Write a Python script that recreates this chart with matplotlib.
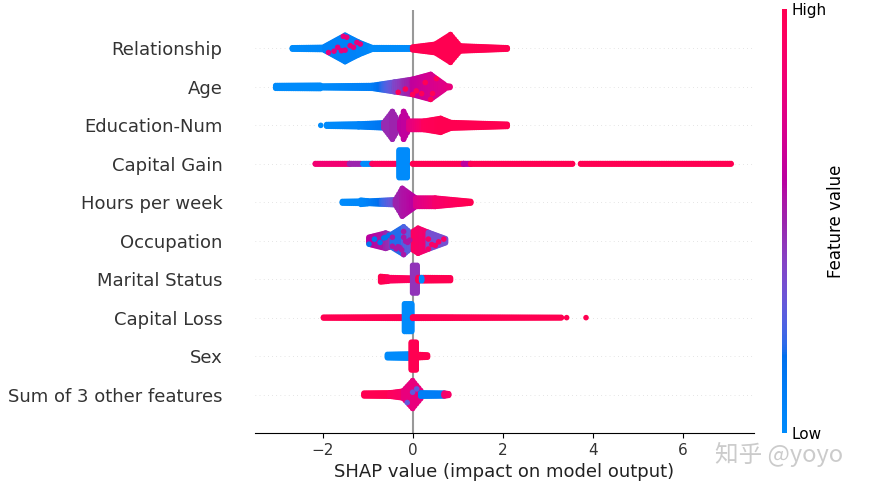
import numpy as np
import matplotlib
matplotlib.use("Agg")
import matplotlib.pyplot as plt
import matplotlib.cm as cm
from matplotlib.colors import LinearSegmentedColormap

# features, top to bottom
features = ["Relationship", "Age", "Education-Num", "Capital Gain",
            "Hours per week", "Occupation", "Marital Status", "Capital Loss",
            "Sex", "Sum of 3 other features"]

# swarm outline:
# (shap from, shap to, stack height at start, at end, feature value at start, at end)
relationship = [(-2.67, -1.95, 0.05, 0.08, 0.0, 0.02),
                (-1.95, -1.5, 0.15, 0.95, 0.06, 0.06),
                (-1.5, -1.2, 0.95, 0.45, 0.06, 0.06),
                (-1.2, -0.93, 0.45, 0.1, 0.05, 0.03),
                (-0.93, -0.02, 0.06, 0.05, 0.0, 0.0),
                (0.0, 0.5, 0.1, 0.3, 1.0, 1.0),
                (0.5, 0.84, 0.3, 1.0, 1.0, 1.0),
                (0.84, 1.05, 1.0, 0.2, 1.0, 1.0),
                (1.05, 2.1, 0.18, 0.05, 1.0, 1.0)]
age = [(-3.04, -2.05, 0.1, 0.12, 0.0, 0.0),
       (-2.05, -0.9, 0.06, 0.1, 0.0, 0.08),
       (-0.9, -0.4, 0.1, 0.35, 0.08, 0.35),
       (-0.4, 0.0, 0.35, 0.55, 0.38, 0.55),
       (0.0, 0.4, 0.55, 0.9, 0.62, 0.7),
       (0.4, 0.7, 0.9, 0.2, 0.7, 0.75),
       (0.7, 0.83, 0.1, 0.04, 0.75, 0.8)]
education = [(-2.04, -2.04, 0.0, 0.0, 0.0, 0.0),
             (-1.91, -1.2, 0.06, 0.1, 0.0, 0.04),
             (-1.2, -0.64, 0.1, 0.18, 0.04, 0.15),
             (-0.64, -0.45, 0.2, 1.0, 0.48, 0.48),
             (-0.45, -0.3, 1.0, 0.2, 0.5, 0.5),
             (-0.28, -0.2, 0.3, 1.0, 0.6, 0.6),
             (-0.2, -0.08, 1.0, 0.3, 0.62, 0.62),
             (-0.08, 0.25, 0.3, 0.3, 0.75, 0.92),
             (0.25, 0.62, 0.3, 0.5, 0.95, 1.0),
             (0.62, 0.85, 0.5, 0.2, 1.0, 1.0),
             (0.85, 2.1, 0.2, 0.08, 1.0, 1.0)]
capital_gain = [(-2.16, -1.4, 0.02, 0.02, 0.85, 0.85),
                (-1.4, -1.15, 0.02, 0.02, 0.5, 0.5),
                (-1.1, -0.9, 0.02, 0.02, 0.0, 0.0),
                (-0.9, -0.33, 0.02, 0.02, 0.95, 0.95),
                (-0.3, -0.12, 1.0, 1.0, 0.0, 0.0),
                (0.0, 1.13, 0.02, 0.02, 1.0, 1.0),
                (1.13, 1.29, 0.02, 0.02, 0.6, 0.6),
                (1.29, 3.55, 0.02, 0.02, 1.0, 1.0),
                (3.73, 7.07, 0.02, 0.02, 1.0, 1.0)]
hours = [(-1.56, -1.15, 0.06, 0.08, 0.0, 0.02),
         (-1.15, -1.0, 0.15, 0.1, 0.02, 0.04),
         (-1.0, -0.38, 0.08, 0.18, 0.05, 0.35),
         (-0.38, -0.23, 0.2, 1.0, 0.5, 0.52),
         (-0.23, 0.07, 1.0, 0.3, 0.55, 0.6),
         (0.07, 0.5, 0.3, 0.3, 0.72, 0.85),
         (0.5, 1.29, 0.3, 0.06, 0.88, 1.0)]
occupation = [(-0.97, -0.6, 0.25, 0.55, 0.6, 0.55),
              (-0.6, -0.45, 0.55, 0.4, 0.5, 0.45),
              (-0.45, -0.2, 0.5, 1.0, 0.2, 0.2),
              (-0.2, -0.02, 1.0, 0.5, 0.25, 0.3),
              (0.02, 0.12, 0.7, 0.9, 0.92, 0.92),
              (0.12, 0.35, 0.9, 0.6, 0.9, 0.85),
              (0.35, 0.73, 0.6, 0.15, 0.35, 0.35)]
marital = [(-0.71, -0.55, 0.2, 0.15, 1.0, 1.0),
           (-0.55, -0.05, 0.12, 0.08, 0.95, 0.95),
           (0.0, 0.1, 1.0, 1.0, 0.45, 0.45),
           (0.12, 0.84, 0.12, 0.1, 1.0, 1.0)]
capital_loss = [(-1.98, -0.2, 0.03, 0.05, 1.0, 1.0),
                (-0.18, -0.02, 1.0, 1.0, 0.0, 0.0),
                (0.0, 3.3, 0.05, 0.02, 1.0, 1.0),
                (3.42, 3.42, 0.0, 0.0, 1.0, 1.0),
                (3.85, 3.85, 0.0, 0.0, 1.0, 1.0)]
sex = [(-0.56, -0.09, 0.12, 0.15, 0.0, 0.0),
       (-0.03, 0.08, 1.0, 1.0, 1.0, 1.0),
       (0.1, 0.33, 0.12, 0.08, 1.0, 1.0)]
other = [(-1.08, -0.5, 0.1, 0.12, 1.0, 1.0),
         (-0.5, -0.2, 0.12, 0.25, 0.95, 0.9),
         (-0.2, 0.0, 0.3, 1.0, 0.8, 0.8),
         (0.0, 0.18, 1.0, 0.3, 0.8, 0.8),
         (0.18, 0.7, 0.12, 0.1, 0.08, 0.1),
         (0.7, 0.8, 0.1, 0.06, 0.85, 0.9)]

# speckles of other feature values inside the swarm: (from, to, feature value, every nth point)
relationship_mix = [(-1.9, -1.05, 0.8, 35)]
age_mix = [(-0.35, 0.6, 0.97, 50)]
occupation_mix = [(-0.97, -0.5, 0.15, 30), (-0.45, -0.05, 0.55, 20), (0.35, 0.73, 0.9, 25)]
marital_mix = [(-0.16, -0.14, 0.0, 1), (0.19, 0.21, 0.0, 1)]
other_mix = [(-0.15, 0.15, 0.3, 70)]

rows = [relationship, age, education, capital_gain, hours,
        occupation, marital, capital_loss, sex, other]
mixes = [relationship_mix, age_mix, [], [], [], occupation_mix,
         marital_mix, [], [], other_mix]


# shap's red_blue colormap (interpolated in LCH space)
def lch2rgb(l, c, h):
    a, b = c * np.cos(h), c * np.sin(h)
    fy = (l + 16) / 116
    fx, fz = fy + a / 500, fy - b / 200
    finv = lambda t: np.where(t > 6 / 29, t ** 3, 3 * (6 / 29) ** 2 * (t - 4 / 29))
    X, Y, Z = 0.95047 * finv(fx), finv(fy), 1.08883 * finv(fz)
    rgb = np.array([3.2406 * X - 1.5372 * Y - 0.4986 * Z,
                    -0.9689 * X + 1.8758 * Y + 0.0415 * Z,
                    0.0557 * X - 0.2040 * Y + 1.0570 * Z])
    rgb = np.where(rgb > 0.0031308, 1.055 * np.abs(rgb) ** (1 / 2.4) - 0.055, 12.92 * rgb)
    return np.clip(rgb, 0, 1)

nsteps = 100
l_vals = np.r_[np.linspace(54, 40, nsteps // 2), np.linspace(40, 54, nsteps // 2)]
c_vals = np.linspace(70, 90, nsteps)
h_vals = np.linspace(4.6588, 0.35470565 + 2 * np.pi, nsteps)
cols = lch2rgb(l_vals, c_vals, h_vals).T
cols[0] = [0.0, 0.5434, 0.9834]
cols[-1] = [1.0, 0.0, 0.3193]
red_blue = LinearSegmentedColormap.from_list("red_blue", cols)

plt.rcParams["font.family"] = "DejaVu Sans"
fig = plt.figure(figsize=(8.81, 4.87), dpi=100)
ax = fig.add_axes([255 / 881, 54 / 487, 499 / 881, 423 / 487])

n = len(features)
max_half = 0.36   # shap scales the tallest stack to 0.9 * row_height(0.4)
dx, dy = 0.04, 0.03

ax.axvline(0, color="#999999", zorder=-1)
for i, (segs, mix) in enumerate(zip(rows, mixes)):
    pos = n - 1 - i
    ax.axhline(pos, color="#cccccc", lw=0.5, dashes=(1, 5), zorder=-1)
    xs, ys, cs = [], [], []
    for x0, x1, h0, h1, c0, c1 in segs:
        ncol = max(1, int(round((x1 - x0) / dx)) + 1)
        for t in np.linspace(0, 1, ncol):
            h = (h0 + t * (h1 - h0)) * max_half
            k = int(np.ceil(2 * h / dy)) + 1
            for y in np.linspace(-h, h, k):
                xs.append(x0 + t * (x1 - x0))
                ys.append(pos + y)
                cs.append(c0 + t * (c1 - c0))
    xs, ys, cs = np.array(xs), np.array(ys), np.array(cs)
    top = np.zeros(len(xs), bool)
    for m0, m1, mc, every in mix:
        idx = np.where((xs >= m0) & (xs <= m1))[0][::every]
        cs[idx] = mc
        top[idx] = True
    ax.scatter(xs[~top], ys[~top], c=cs[~top], cmap=red_blue, vmin=0, vmax=1,
               s=16, linewidth=0)
    ax.scatter(xs[top], ys[top], c=cs[top], cmap=red_blue, vmin=0, vmax=1,
               s=16, linewidth=0)

ax.set_xlim(-3.5, 7.58)
ax.set_ylim(-1, n)
ax.set_yticks(range(n))
ax.set_yticklabels(features[::-1], fontsize=13, color="#333333")
ax.tick_params("y", length=0, pad=23.5)
ax.tick_params("x", labelsize=11, labelcolor="#333333")
for s in ["top", "right", "left"]:
    ax.spines[s].set_visible(False)
ax.set_xlabel("SHAP value (impact on model output)", fontsize=13, color="#222222")

# colour bar
cax = fig.add_axes([782 / 881, 54 / 487, 5 / 881, 424 / 487])
m = cm.ScalarMappable(cmap=red_blue)
m.set_array([0, 1])
cb = fig.colorbar(m, cax=cax, ticks=[0, 1])
cb.set_ticklabels(["Low", "High"])
cb.set_label("Feature value", size=12, labelpad=0)
cb.ax.tick_params(labelsize=11, length=0)
cb.outline.set_visible(False)

# watermark
fig.text(0.812, 0.066, "知乎 @yoyo", fontsize=17, color="#cbcbcb",
         ha="left", va="center", family=["Noto Sans CJK SC", "DejaVu Sans"])

fig.savefig("out.png", dpi=100)
